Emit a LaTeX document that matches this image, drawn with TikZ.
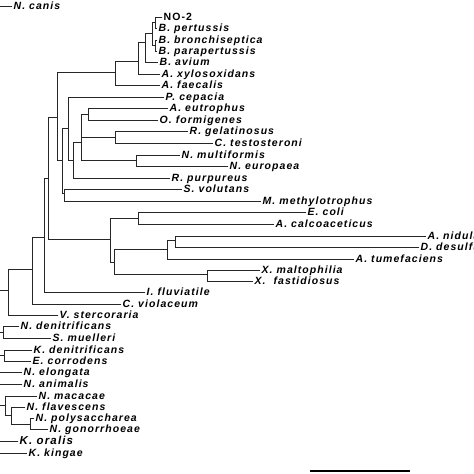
\documentclass[tikz,border=0pt]{standalone}
\usepackage{fontspec}
\newfontfamily\taxfont{Liberation Sans}[LetterSpace=10]
\usetikzlibrary{positioning}
\tikzset{
  branch/.style={draw=black!85,line width=0.8pt,line cap=rect},
  leaf/.style={anchor=west,inner xsep=1.5pt,inner ysep=0pt,text height=7.5pt,
    text depth=0pt,font=\taxfont\bfseries\itshape\fontsize{10.5}{12}\selectfont},
  strain/.style={leaf,font=\taxfont\bfseries\fontsize{10.5}{12}\selectfont},
  scalebar/.style={draw=black,line width=2pt}
}

\begin{document}
\begin{tikzpicture}[x=1pt,y=-1pt]
\useasboundingbox (0,0) rectangle (474,474);

% leaves
\node[leaf] (ncanis) at (12,6) {N. canis};
\node[strain] (notwo) at (162,17) {NO-2};
\node[leaf] (bpert) at (157,28) {B. pertussis};
\node[leaf] (bbron) at (157,40) {B. bronchiseptica};
\node[leaf] (bpara) at (157,51) {B. parapertussis};
\node[leaf] (bavium) at (158,62) {B. avium};
\node[leaf] (axylo) at (160,74) {A. xylosoxidans};
\node[leaf] (afaec) at (160,85) {A. faecalis};
\node[leaf] (pcep) at (164,97) {P. cepacia};
\node[leaf] (aeut) at (168,108) {A. eutrophus};
\node[leaf] (oform) at (158,120) {O. formigenes};
\node[leaf] (rgel) at (188,131) {R. gelatinosus};
\node[leaf] (ctest) at (213,143) {C. testosteroni};
\node[leaf] (nmult) at (180,155) {N. multiformis};
\node[leaf] (neur) at (228,166) {N. europaea};
\node[leaf] (rpurp) at (170,178) {R. purpureus};
\node[leaf] (svol) at (182,189) {S. volutans};
\node[leaf] (mmeth) at (261,201) {M. methylotrophus};
\node[leaf] (ecoli) at (306,212) {E. coli};
\node[leaf] (acalc) at (274,224) {A. calcoaceticus};
\node[leaf] (anid) at (426,236) {A. nidulans};
\node[leaf] (ddes) at (419,247) {D. desulfuricans};
\node[leaf] (atum) at (354,259) {A. tumefaciens};
\node[leaf] (xmalt) at (260,270) {X. maltophilia};
\node[leaf] (xfast) at (253,281) {X.\ \ fastidiosus};
\node[leaf] (ifluv) at (145,292) {I. fluviatile};
\node[leaf] (cviol) at (121,304) {C. violaceum};
\node[leaf] (vster) at (58,315) {V. stercoraria};
\node[leaf] (nden) at (19,326) {N. denitrificans};
\node[leaf] (smuel) at (51,338) {S. muelleri};
\node[leaf] (kden) at (32,350) {K. denitrificans};
\node[leaf] (ecorr) at (31,361) {E. corrodens};
\node[leaf] (nelon) at (22,372) {N. elongata};
\node[leaf] (nanim) at (22,384) {N. animalis};
\node[leaf] (nmac) at (37,396) {N. macacae};
\node[leaf] (nflav) at (25,407) {N. flavescens};
\node[leaf] (npoly) at (34,418) {N. polysaccharea};
\node[leaf] (ngon) at (48,429) {N. gonorrhoeae};
\node[leaf,font=\taxfont\bfseries\itshape\fontsize{11.5}{13}\selectfont] (koral) at (18,441) {K. oralis};
\node[leaf] (kking) at (27,453) {K. kingae};

% inner nodes
\coordinate (rstub) at (0,290);
\coordinate (r) at (8,290);
\coordinate (h) at (32,269);
\coordinate (g) at (44,237);
\coordinate (f) at (48,178);
\coordinate (b1) at (57,117);
\coordinate (bd1) at (115,72);
\coordinate (bd2) at (138,61);
\coordinate (bd3) at (145,42);
\coordinate (bd4) at (152.5,33);
\coordinate (bd5) at (155,22);
\coordinate (bd6) at (155,45);
\coordinate (b2) at (62,160);
\coordinate (b3) at (68,128);
\coordinate (b4) at (73,160);
\coordinate (b5) at (81,142);
\coordinate (b6) at (88,114);
\coordinate (b7) at (115,137);
\coordinate (b8) at (136,160);
\coordinate (c1) at (64,193);
\coordinate (g1) at (110,239);
\coordinate (ge) at (138,218);
\coordinate (g2) at (114,262);
\coordinate (g3) at (167,249);
\coordinate (g4) at (175,240);
\coordinate (xa) at (207,274);
\coordinate (nd) at (3,332);
\coordinate (kd) at (4,355);
\coordinate (nm) at (5,405);
\coordinate (nf) at (11,415);
\coordinate (np) at (30,424);

% stubs cut at the left edge
\coordinate (ncanisstub) at (0,6);
\coordinate (ndstub) at (0,332);
\coordinate (kdstub) at (0,355);
\coordinate (nelonstub) at (0,372);
\coordinate (nanimstub) at (0,384);
\coordinate (nmstub) at (0,405);
\coordinate (koralstub) at (0,441);
\coordinate (kkingstub) at (0,453);

\draw[branch] (ncanisstub) -- (ncanis);
\draw[branch] (rstub) -- (r);
\draw[branch] (r) |- (h);  \draw[branch] (r) |- (vster);
\draw[branch] (h) |- (g);  \draw[branch] (h) |- (cviol);
\draw[branch] (g) |- (f);  \draw[branch] (g) |- (ifluv);
\draw[branch] (f) |- (b1); \draw[branch] (f) |- (g1);

\draw[branch] (b1) |- (bd1);  \draw[branch] (b1) |- (b2);
\draw[branch] (bd1) |- (bd2); \draw[branch] (bd1) |- (afaec);
\draw[branch] (bd2) |- (bd3); \draw[branch] (bd2) |- (axylo);
\draw[branch] (bd3) |- (bd4); \draw[branch] (bd3) |- (bavium);
\draw[branch] (bd4) |- (bd5); \draw[branch] (bd4) |- (bd6);
\draw[branch] (bd5) |- (notwo); \draw[branch] (bd5) |- (bpert);
\draw[branch] (bd6) |- (bbron); \draw[branch] (bd6) |- (bpara);

\draw[branch] (b2) |- (b3); \draw[branch] (b2) |- (c1);
\draw[branch] (b3) |- (pcep); \draw[branch] (b3) |- (b4);
\draw[branch] (b4) |- (b5); \draw[branch] (b4) |- (rpurp);
\draw[branch] (b5) |- (b6); \draw[branch] (b5) |- (b7); \draw[branch] (b5) |- (b8);
\draw[branch] (b6) |- (aeut); \draw[branch] (b6) |- (oform);
\draw[branch] (b7) |- (rgel); \draw[branch] (b7) |- (ctest);
\draw[branch] (b8) |- (nmult); \draw[branch] (b8) |- (neur);
\draw[branch] (c1) |- (svol); \draw[branch] (c1) |- (mmeth);

\draw[branch] (g1) |- (ge); \draw[branch] (g1) |- (g2);
\draw[branch] (ge) |- (ecoli); \draw[branch] (ge) |- (acalc);
\draw[branch] (g2) |- (g3); \draw[branch] (g2) |- (xa);
\draw[branch] (g3) |- (g4); \draw[branch] (g3) |- (atum);
\draw[branch] (g4) |- (anid); \draw[branch] (g4) |- (ddes);
\draw[branch] (xa) |- (xmalt); \draw[branch] (xa) |- (xfast);

% lower group
\draw[branch] (ndstub) -- (nd);
\draw[branch] (nd) |- (nden); \draw[branch] (nd) |- (smuel);
\draw[branch] (kdstub) -- (kd);
\draw[branch] (kd) |- (kden); \draw[branch] (kd) |- (ecorr);
\draw[branch] (nelonstub) -- (nelon);
\draw[branch] (nanimstub) -- (nanim);
\draw[branch] (nmstub) -- (nm);
\draw[branch] (nm) |- (nmac); \draw[branch] (nm) |- (nf);
\draw[branch] (nf) |- (nflav); \draw[branch] (nf) |- (np);
\draw[branch] (np) |- (npoly); \draw[branch] (np) |- (ngon);
\draw[branch] (koralstub) -- (koral);
\draw[branch] (kkingstub) -- (kking);

% scale bar
\coordinate (bar1) at (310,471);
\coordinate (bar2) at (410,471);
\draw[scalebar] (bar1) -- (bar2);

\end{tikzpicture}
\end{document}
